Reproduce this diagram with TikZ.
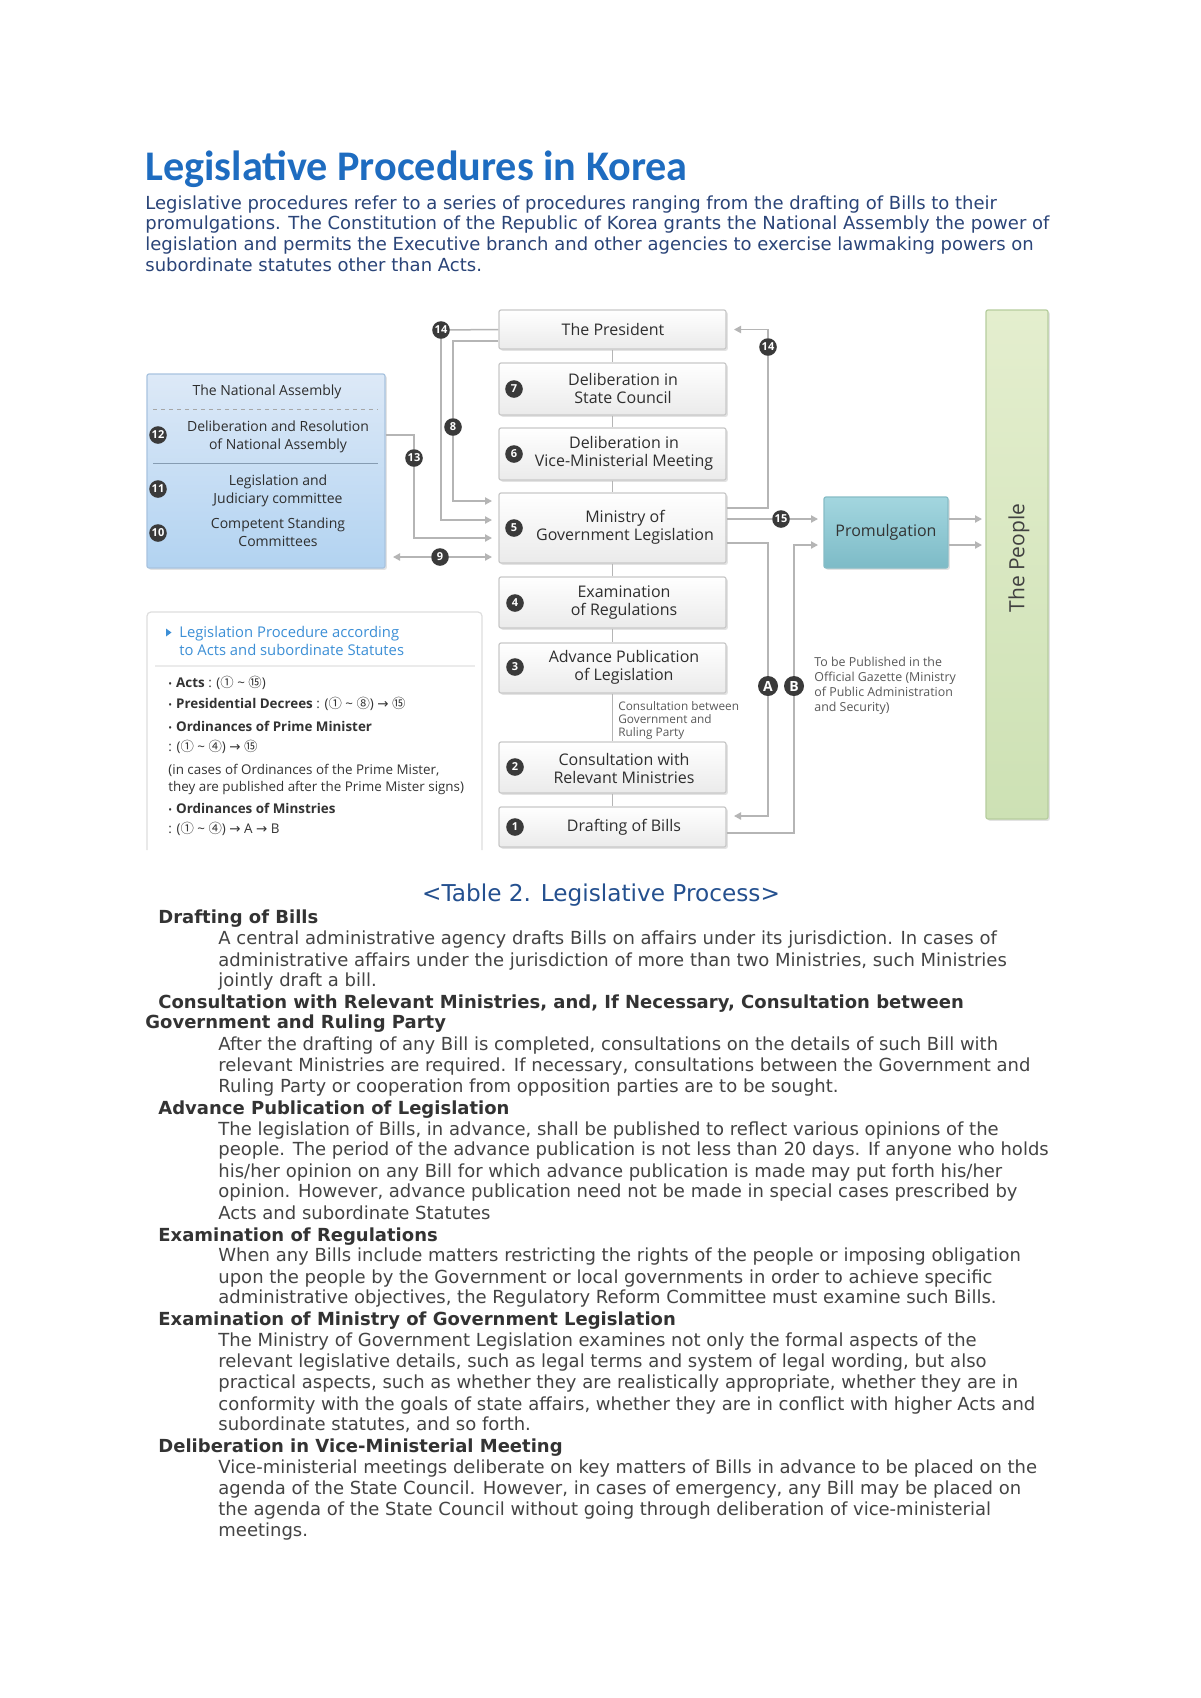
\documentclass[tikz,border=0pt]{standalone}
\usepackage{fontspec}
\setmainfont{DejaVu Sans}
\newfontfamily\dv{DejaVu Sans}
\newfontfamily\osans{Open Sans}
\newfontfamily\calib{Carlito}
\newfontfamily\cjk{Noto Sans CJK SC}
\usetikzlibrary{arrows.meta,shadows,calc}
\definecolor{connc}{HTML}{B5B5B5}
\definecolor{numc}{HTML}{3A3A3A}
\definecolor{boxb}{HTML}{C8C8C8}
\definecolor{titleblue}{HTML}{1E6CC0}
\definecolor{parablue}{HTML}{2A4478}
\definecolor{bodyg}{HTML}{444444}
\definecolor{headg}{HTML}{333333}
\definecolor{legblue}{HTML}{3C8FD6}
\definecolor{tblblue}{HTML}{24508F}
\definecolor{naT}{HTML}{DDE9F7}
\definecolor{naB}{HTML}{B2D3F1}
\definecolor{naD}{HTML}{A8C3DF}
\definecolor{prT}{HTML}{A3D6DF}
\definecolor{prB}{HTML}{7DBBC7}
\definecolor{prD}{HTML}{86BCC6}
\definecolor{peT}{HTML}{E4EECE}
\definecolor{peB}{HTML}{CDE1B4}
\definecolor{peD}{HTML}{B6CD9E}
\newcommand\myc[1]{{\cjk #1}}
\newcommand\myar{{\dv →}}
\newcommand\mybul{{\fontsize{5}{5}\selectfont •}\hspace{2pt}}
\newcommand\mytop[2]{\node[topl] (P#1) at (145,#1) {#2};}
\newcommand\mybody[2]{\node[bodyl] (B#1) at (218,#1) {#2};}
\newcommand\myhead[3]{\node[headl] (H#2) at (#1,#2) {#3};}
\tikzset{
  mbox/.style={draw=boxb, line width=0.6pt, rounded corners=1pt, top color=white, bottom color=black!8,
    minimum width=113.5pt, inner sep=0pt, drop shadow={shadow xshift=0.9pt,shadow yshift=-0.9pt,opacity=0.22}},
  btext/.style={font=\osans\fontsize{8}{9}\selectfont, text=black!82, align=center, inner sep=0pt},
  natext/.style={font=\osans\fontsize{7}{9}\selectfont, text=black!82, align=center, inner sep=0pt},
  num/.style={circle, fill=numc, text=white, font=\osans\bfseries\fontsize{5.5}{5.5}\selectfont, inner sep=0pt, minimum size=8.8pt},
  bignum/.style={num, minimum size=10pt, font=\osans\bfseries\fontsize{7}{7}\selectfont},
  cline/.style={draw=connc, line width=0.75pt},
  arr/.style={cline, -{Triangle[length=3.5pt,width=3.6pt]}},
  note/.style={font=\osans\fontsize{5.9}{6.5}\selectfont, text=black!65, align=left, inner sep=0pt, anchor=west},
  legl/.style={font=\osans\fontsize{6.7}{9}\selectfont, text=black!80, inner sep=0pt, anchor=west},
  topl/.style={font=\dv\fontsize{9}{10}\selectfont, text=parablue, inner sep=0pt, anchor=mid west},
  bodyl/.style={font=\dv\fontsize{9}{10}\selectfont, text=bodyg, inner sep=0pt, anchor=mid west},
  headl/.style={font=\dv\bfseries\fontsize{9}{10}\selectfont, text=headg, inner sep=0pt, anchor=mid west},
}
\begin{document}
\begin{tikzpicture}[x=0.5pt,y=-0.5pt]
\useasboundingbox (0,0) rectangle (1200,1698);
\fill[white] (0,0) rectangle (1200,1698);

% title and intro
\node[anchor=base west, inner sep=0pt, font=\calib\bfseries\fontsize{21.1}{24}\selectfont, text=titleblue] (title) at (145,180) {Legislative Procedures in Korea};
\mytop{204}{Legislative procedures refer to a series of procedures ranging from the drafting of Bills to their}
\mytop{224}{promulgations. The Constitution of the Republic of Korea grants the National Assembly the power of}
\mytop{245}{legislation and permits the Executive branch and other agencies to exercise lawmaking powers on}
\mytop{266}{subordinate statutes other than Acts.}

% main column
\node[mbox, minimum height=19.5pt] (pres) at (612.5,329.5) {};
\node[btext] (tp) at (613,329.5) {The President};
\node[mbox, minimum height=26pt] (b7) at (612.5,389) {};
\node[btext] (t7) at (623,388) {Deliberation in\\State Council};
\node[mbox, minimum height=26pt] (b6) at (612.5,454) {};
\node[btext] (t6) at (624,453) {Deliberation in\\Vice-Ministerial Meeting};
\node[mbox, minimum height=35pt] (b5) at (612.5,528) {};
\node[btext] (t5) at (625,527) {Ministry of\\Government Legislation};
\node[mbox, minimum height=25.5pt] (b4) at (612.5,602.5) {};
\node[btext] (t4) at (624,602.5) {Examination\\of Regulations};
\node[mbox, minimum height=25pt] (b3) at (612.5,668) {};
\node[btext] (t3) at (624,667.5) {Advance Publication\\of Legislation};
\node[mbox, minimum height=25.5pt] (b2) at (612.5,767.5) {};
\node[btext] (t2) at (624,768.5) {Consultation with\\Relevant Ministries};
\node[mbox, minimum height=20pt] (b1) at (612.5,827) {};
\node[btext] (t1) at (624,827) {Drafting of Bills};

\node[num] (n7) at (514,389) {7};
\node[num] (n6) at (514,454) {6};
\node[num] (n5) at (514,528) {5};
\node[num] (n4) at (515,603) {4};
\node[num] (n3) at (515,667) {3};
\node[num] (n2) at (515,767) {2};
\node[num] (n1) at (515,827) {1};

\draw[cline] (pres) -- (b7);
\draw[cline] (b7) -- (b6);
\draw[cline] (b6) -- (b5);
\draw[cline] (b5) -- (b4);
\draw[cline] (b4) -- (b3);
\draw[cline] (b3) -- (b2);
\draw[cline] (b2) -- (b1);
\node[note] (cnote) at (618,720) {Consultation between\\Government and\\Ruling Party};

% National Assembly
\node[draw=naD, line width=0.6pt, top color=naT, bottom color=naB, minimum width=119pt, minimum height=97pt, inner sep=0pt, rounded corners=1pt,
  drop shadow={shadow xshift=0.9pt,shadow yshift=-0.9pt,opacity=0.22}] (na) at (266,471) {};
\node[natext] (nat) at (267,392) {The National Assembly};
\draw[draw=black!35, dash pattern=on 2pt off 2pt, line width=0.4pt] (153,409) -- (378,409);
\draw[draw=naD!80!black, line width=0.5pt] (153,463) -- (378,463);
\node[num] (n12) at (158,435) {12};
\node[natext] (t12) at (278,437) {Deliberation and Resolution\\of National Assembly};
\node[num] (n11) at (158,489) {11};
\node[natext] (t11) at (278,491) {Legislation and\\Judiciary committee};
\node[num] (n10) at (158,533) {10};
\node[natext] (t10) at (278,532.5) {Competent Standing\\Committees};

% left connectors
\coordinate (e14) at (492,520);
\coordinate (e8) at (492,501);
\coordinate (e13) at (492,538);
\coordinate (e9r) at (492,557);
\coordinate (e9l) at (393,557);
\node[num] (n14a) at (441,330) {14};
\node[num] (n8) at (453,427) {8};
\node[num] (n13) at (414,458) {13};
\node[num] (n9) at (440,557) {9};
\draw[cline] (pres.west) -- (n14a);
\draw[arr] (n14a) |- (e14);
\draw[cline] ($(pres.west)+(0,11.5)$) -| (n8);
\draw[arr] (n8) |- (e8);
\draw[cline] ($(na.east)+(0,-36)$) -| (n13);
\draw[arr] (n13) |- (e13);
\draw[arr] (n9) -- (e9r);
\draw[arr] (n9) -- (e9l);

% promulgation and people
\node[draw=prD, line width=0.6pt, top color=prT, bottom color=prB, minimum width=62pt, minimum height=35.5pt, inner sep=0pt, rounded corners=1pt,
  drop shadow={shadow xshift=0.9pt,shadow yshift=-0.9pt,opacity=0.22}, font=\osans\fontsize{8}{9}\selectfont, text=black!80] (prom) at (886,532.5) {Promulgation};
\node[draw=peD, line width=0.6pt, top color=peT, bottom color=peB, minimum width=31pt, minimum height=254.5pt, inner sep=0pt, rounded corners=1pt,
  drop shadow={shadow xshift=0.9pt,shadow yshift=-0.9pt,opacity=0.22}] (people) at (1017,564.5) {};
\node[rotate=90, inner sep=0pt, font=\osans\fontsize{10.5}{11}\selectfont, text=black!75] (ptext) at (1019,558) {The People};

% right connectors
\coordinate (e14r) at (734,329.5);
\coordinate (e15) at (818,519);
\coordinate (eA) at (734,816);
\coordinate (eB) at (818,545);
\coordinate (eP1) at (982,519);
\coordinate (eP2) at (982,545);
\node[num] (n14b) at (768,347) {14};
\node[num] (n15) at (781,519) {15};
\node[bignum] (nA) at (768,686) {A};
\node[bignum] (nB) at (794,686) {B};
\draw[cline] ($(b5.east)+(0,-20)$) -| (n14b);
\draw[arr] (n14b) |- (e14r);
\draw[cline] ($(b5.east)+(0,-9)$) -- (n15);
\draw[arr] (n15) -- (e15);
\draw[cline] ($(b5.east)+(0,15)$) -| (nA);
\draw[arr] (nA) |- (eA);
\draw[cline] ($(b1.east)+(0,6)$) -| (nB);
\draw[arr] (nB) |- (eB);
\draw[arr] ($(prom.east)+(0,-13.5)$) -- (eP1);
\draw[arr] ($(prom.east)+(0,12.5)$) -- (eP2);
\node[note, font=\osans\fontsize{6.2}{7.5}\selectfont] (gaz) at (814,685.5) {To be Published in the\\Official Gazette (Ministry\\of Public Administration\\and Security)};

% legend
\draw[draw=black!13, line width=0.6pt, rounded corners=2pt] (147,850) -- (147,612) -- (482,612) -- (482,850);
\fill[legblue] (166,628.5) -- (171.5,632.5) -- (166,636.5) -- cycle;
\node[anchor=west, inner sep=0pt, align=left, font=\osans\fontsize{7.4}{9}\selectfont, text=legblue] (legt) at (179,641) {Legislation Procedure according\\to Acts and subordinate Statutes};
\draw[draw=black!8, line width=0.6pt] (155,666) -- (475,666);
\node[legl] (l1) at (168,683) {\mybul\textbf{Acts} : (\myc{①} \textasciitilde{} \myc{⑮})};
\node[legl] (l2) at (168,704) {\mybul\textbf{Presidential Decrees} : (\myc{①} \textasciitilde{} \myc{⑧}) \myar{} \myc{⑮}};
\node[legl] (l3) at (168,726) {\mybul\textbf{Ordinances of Prime Minister}};
\node[legl] (l4) at (168,747) {: (\myc{①} \textasciitilde{} \myc{④}) \myar{} \myc{⑮}};
\node[legl] (l5) at (168,770) {(in cases of Ordinances of the Prime Mister,};
\node[legl] (l6) at (168,788) {they are published after the Prime Mister signs)};
\node[legl] (l7) at (168,808) {\mybul\textbf{Ordinances of Minstries}};
\node[legl] (l8) at (168,829) {: (\myc{①} \textasciitilde{} \myc{④}) \myar{} A \myar{} B};

% table text
\node[inner sep=0pt, font=\dv\fontsize{11.6}{13}\selectfont, text=tblblue] (tbl) at (601,895) {<Table 2. Legislative Process>};
\myhead{158}{918}{Drafting of Bills}
\mybody{939}{A central administrative agency drafts Bills on affairs under its jurisdiction. In cases of}
\mybody{961}{administrative affairs under the jurisdiction of more than two Ministries, such Ministries}
\mybody{981}{jointly draft a bill.}
\myhead{158}{1003}{Consultation with Relevant Ministries, and, If Necessary, Consultation between}
\myhead{145}{1023}{Government and Ruling Party}
\mybody{1045}{After the drafting of any Bill is completed, consultations on the details of such Bill with}
\mybody{1066}{relevant Ministries are required. If necessary, consultations between the Government and}
\mybody{1087}{Ruling Party or cooperation from opposition parties are to be sought.}
\myhead{158}{1109}{Advance Publication of Legislation}
\mybody{1130}{The legislation of Bills, in advance, shall be published to reflect various opinions of the}
\mybody{1150}{people. The period of the advance publication is not less than 20 days. If anyone who holds}
\mybody{1172}{his/her opinion on any Bill for which advance publication is made may put forth his/her}
\mybody{1192}{opinion. However, advance publication need not be made in special cases prescribed by}
\mybody{1214}{Acts and subordinate Statutes}
\myhead{158}{1236}{Examination of Regulations}
\mybody{1256}{When any Bills include matters restricting the rights of the people or imposing obligation}
\mybody{1278}{upon the people by the Government or local governments in order to achieve specific}
\mybody{1298}{administrative objectives, the Regulatory Reform Committee must examine such Bills.}
\myhead{158}{1320}{Examination of Ministry of Government Legislation}
\mybody{1341}{The Ministry of Government Legislation examines not only the formal aspects of the}
\mybody{1362}{relevant legislative details, such as legal terms and system of legal wording, but also}
\mybody{1383}{practical aspects, such as whether they are realistically appropriate, whether they are in}
\mybody{1405}{conformity with the goals of state affairs, whether they are in conflict with higher Acts and}
\mybody{1425}{subordinate statutes, and so forth.}
\myhead{158}{1447}{Deliberation in Vice-Ministerial Meeting}
\mybody{1468}{Vice-ministerial meetings deliberate on key matters of Bills in advance to be placed on the}
\mybody{1489}{agenda of the State Council. However, in cases of emergency, any Bill may be placed on}
\mybody{1510}{the agenda of the State Council without going through deliberation of vice-ministerial}
\mybody{1531}{meetings.}
\end{tikzpicture}
\end{document}
